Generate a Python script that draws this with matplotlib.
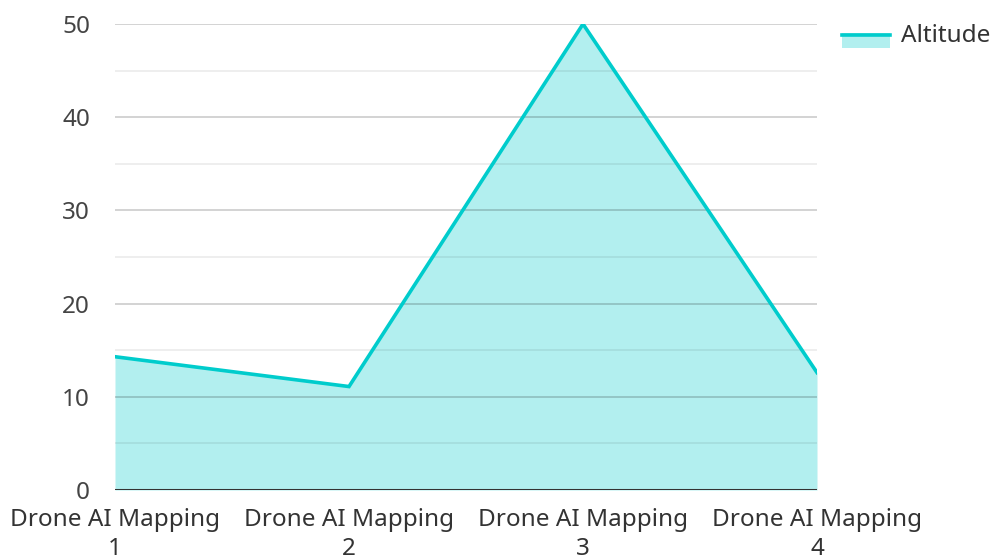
import matplotlib
matplotlib.use("Agg")
import matplotlib.pyplot as plt
from matplotlib.patches import Rectangle
from matplotlib.lines import Line2D

categories = ["Drone AI Mapping\n1", "Drone AI Mapping\n2", "Drone AI Mapping\n3", "Drone AI Mapping\n4"]
altitude = [14.3, 11.1, 50.0, 12.6]
series_name = "Altitude"
y_ticks = [0, 10, 20, 30, 40, 50]

plt.rcParams['font.family'] = ['Noto Sans', 'DejaVu Sans']

W, H = 995, 560
fig = plt.figure(figsize=(W / 100, H / 100), dpi=100)
ax = fig.add_axes([115 / W, 1 - 490 / H, (817 - 115) / W, (490 - 24) / H])

x = list(range(len(categories)))
line_color = "#00CCCC"
fill_color = "#B2EFEF"
FS = 17.5

ax.fill_between(x, 0, altitude, color=fill_color, lw=0, zorder=1)
ax.plot(x, altitude, color=line_color, lw=2.6, zorder=4, solid_joinstyle="miter")

# grid lines
for v in range(5, 50, 10):
    ax.axhline(v, color="#000000", alpha=0.08, lw=1.2, zorder=2)
for v in y_ticks[1:]:
    ax.axhline(v, color="#000000", alpha=0.2, lw=1.2, zorder=2)
ax.axhline(0, color="#333333", lw=2.2, zorder=5)

ax.set_xlim(0, len(categories) - 1)
ax.set_ylim(0, 50)
ax.set_yticks(y_ticks)
ax.set_xticks(x)
ax.set_xticklabels(categories, fontsize=FS, color="#333333", linespacing=1.3)
ax.set_yticklabels([str(v) for v in y_ticks], fontsize=FS, color="#444444")
ax.tick_params(axis="both", length=0)
ax.tick_params(axis="y", pad=18)
ax.tick_params(axis="x", pad=13)
for s in ax.spines.values():
    s.set_visible(False)

# legend (manual)
def px(xp, yp):
    return (xp / W, 1 - yp / H)

rect = Rectangle(px(842, 48), 48 / W, 15 / H, transform=fig.transFigure,
                 facecolor=fill_color, edgecolor="none")
fig.add_artist(rect)
fig.add_artist(Line2D([842 / W, 890 / W], [1 - 35 / H, 1 - 35 / H],
                      transform=fig.transFigure, color=line_color, lw=2.6))
fig.text(901 / W, 1 - 36 / H, series_name, fontsize=FS, color="#333333",
         va="center", ha="left")

fig.savefig("out.png", dpi=100)
